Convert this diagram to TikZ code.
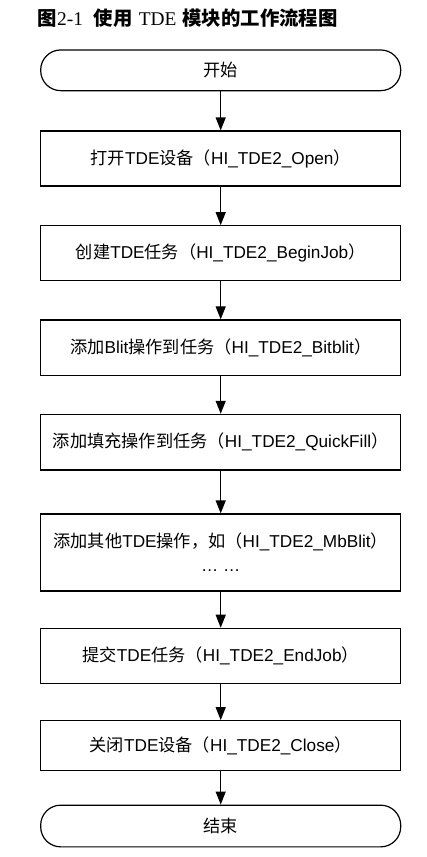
\documentclass[tikz,border=0pt]{standalone}
\usepackage{fontspec}
\setmainfont{Liberation Sans}
\newfontfamily\cjk{Noto Sans CJK SC}
\newfontfamily\titleserif{Liberation Serif}
\newcommand\zh[1]{{\cjk #1}}
\usetikzlibrary{arrows.meta}
\begin{document}
\begin{tikzpicture}[x=1pt,y=-1pt,
  box/.style={draw=black, line width=1.2pt, rectangle, minimum width=360pt,
    inner sep=0pt, font=\fontsize{17.2}{22}\selectfont, text=black, align=center},
  term/.style={box, rounded corners=20pt},
  arr/.style={draw=black, line width=1.2pt, -{Triangle[length=13pt,width=10pt]}}]
\useasboundingbox (0,0) rectangle (427,857);
\node[anchor=west, inner sep=0pt, font=\fontsize{19.4}{23}\selectfont] (title) at (37.5,18)
  {{\cjk\bfseries 图}{\titleserif 2-1}\hspace{11pt}{\cjk\bfseries 使用}\hspace{6pt}{\titleserif TDE}\hspace{6pt}{\cjk\bfseries 模块的工作流程图}};
\node[term, minimum height=40.7pt] (start) at (220.7,70.3) {\zh{开始}};
\node[box, minimum height=55pt] (b1) at (220.7,158.5) {\zh{打开}TDE\zh{设备（}HI\_TDE2\_Open\zh{）}};
\node[box, minimum height=55pt] (b2) at (220.7,253.2) {\zh{创建}TDE\zh{任务（}HI\_TDE2\_BeginJob\zh{）}};
\node[box, minimum height=55.7pt] (b3) at (220.7,347.8) {\zh{添加}Blit\zh{操作到任务（}HI\_TDE2\_Bitblit\zh{）}};
\node[box, minimum height=55.7pt] (b4) at (220.7,442.2) {\zh{添加填充操作到任务（}HI\_TDE2\_QuickFill\zh{）}};
\node[box, minimum height=77pt] (b5) at (220.7,552.5) {\zh{添加其他}TDE\zh{操作，如（}HI\_TDE2\_MbBlit\zh{）}\\[2pt] … …};
\node[box, minimum height=55pt] (b6) at (220.7,655.8) {\zh{提交}TDE\zh{任务（}HI\_TDE2\_EndJob\zh{）}};
\node[box, minimum height=50pt] (b7) at (220.7,745.7) {\zh{关闭}TDE\zh{设备（}HI\_TDE2\_Close\zh{）}};
\node[term, minimum height=41.7pt] (end) at (220.7,826) {\zh{结束}};
\draw[arr] (start) -- (b1);
\draw[arr] (b1) -- (b2);
\draw[arr] (b2) -- (b3);
\draw[arr] (b3) -- (b4);
\draw[arr] (b4) -- (b5);
\draw[arr] (b5) -- (b6);
\draw[arr] (b6) -- (b7);
\draw[arr] (b7) -- (end);
\end{tikzpicture}
\end{document}
